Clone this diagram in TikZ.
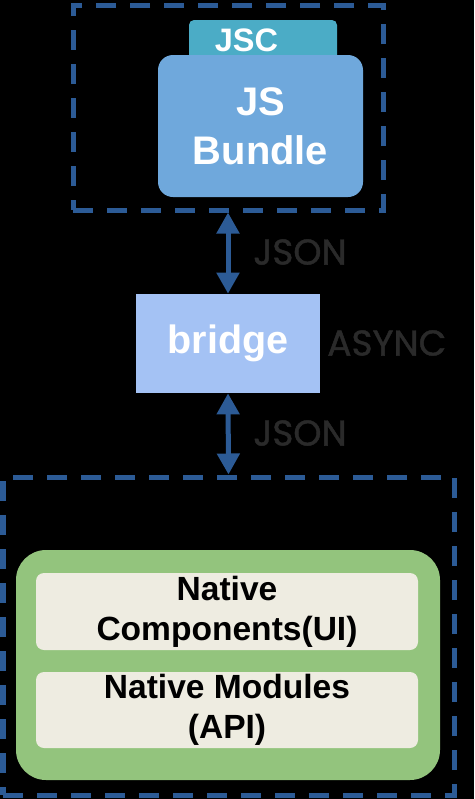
\documentclass[tikz,border=0pt]{standalone}
\usepackage{fontspec}
\setmainfont{Liberation Sans}
\newfontfamily\labelfont[FakeBold=1.2]{Poppins}
\usetikzlibrary{arrows.meta}
\newcommand{\unitsize}{0.02cm}
\definecolor{areablue}{HTML}{2C5B96}
\definecolor{bundleblue}{HTML}{6FA8DC}
\definecolor{tabteal}{HTML}{4BACC6}
\definecolor{bridgeblue}{HTML}{A4C2F4}
\definecolor{nativegreen}{HTML}{93C47D}
\definecolor{nativecream}{HTML}{EEECE1}
\definecolor{labelgrey}{HTML}{2A2A2A}

\begin{document}
\begin{tikzpicture}[x=\unitsize,y=-\unitsize,
	box/.style={inner sep=0pt, align=center, font=\bfseries},
	dashedarea/.style={draw=areablue, line width=5*\unitsize, dash pattern=on 20*\unitsize off 14*\unitsize},
	link/.style={draw=areablue, line width=5*\unitsize,
		{Triangle[width=22*\unitsize,length=21*\unitsize]}-{Triangle[width=22*\unitsize,length=21*\unitsize]}},
	jsonlabel/.style={anchor=west, inner sep=0pt, text=labelgrey, font=\labelfont\fontsize{20.4}{24}\selectfont}]
	\path[use as bounding box, fill=black] (0,0) rectangle (474,799);

	% JS side
	\node[dashedarea, minimum width=310*\unitsize, minimum height=205*\unitsize] (jsarea) at (228,107.5) {};
	\node[box, fill=tabteal, rounded corners=5*\unitsize, minimum width=148*\unitsize, minimum height=40*\unitsize] (jsctab) at (263,40) {};
	\node[box, text=white, font=\bfseries\fontsize{18.5}{22}\selectfont] (jsc) at (246.5,40) {JSC};
	\node[box, fill=bundleblue, text=white, rounded corners=15*\unitsize, minimum width=205*\unitsize, minimum height=142*\unitsize,
		font=\bfseries\fontsize{22.7}{27.9}\selectfont] (bundle) at (260.5,126) {JS\\Bundle};

	% bridge
	\node[box, fill=bridgeblue, text=white, minimum width=184*\unitsize, minimum height=99*\unitsize,
		font=\bfseries\fontsize{22.5}{27}\selectfont] (bridge) at (228,343.5) {bridge};
	\node[jsonlabel] (async) at (327,343) {ASYNC};

	% native side
	\node[dashedarea, minimum width=451*\unitsize, minimum height=318*\unitsize] (nativearea) at (228.5,636) {};
	\node[box, fill=nativegreen, rounded corners=30*\unitsize, minimum width=424*\unitsize, minimum height=230*\unitsize] (nativebox) at (228,665) {};
	\node[box, fill=nativecream, rounded corners=8*\unitsize, minimum width=382*\unitsize, minimum height=77*\unitsize,
		font=\bfseries\fontsize{19.1}{22.8}\selectfont] (components) at (227,611.5) {Native\\Components(UI)};
	\node[box, fill=nativecream, rounded corners=8*\unitsize, minimum width=382*\unitsize, minimum height=76*\unitsize,
		font=\bfseries\fontsize{19.1}{22.8}\selectfont] (modules) at (227,710) {Native Modules\\(API)};

	% links
	\draw[link] (jsarea.south) -- (bridge.north);
	\draw[link] (bridge.south) -- (nativearea.north);
	\node[jsonlabel] (jsontop) at (253,252) {JSON};
	\node[jsonlabel] (jsonbottom) at (253,433) {JSON};
\end{tikzpicture}
\end{document}
